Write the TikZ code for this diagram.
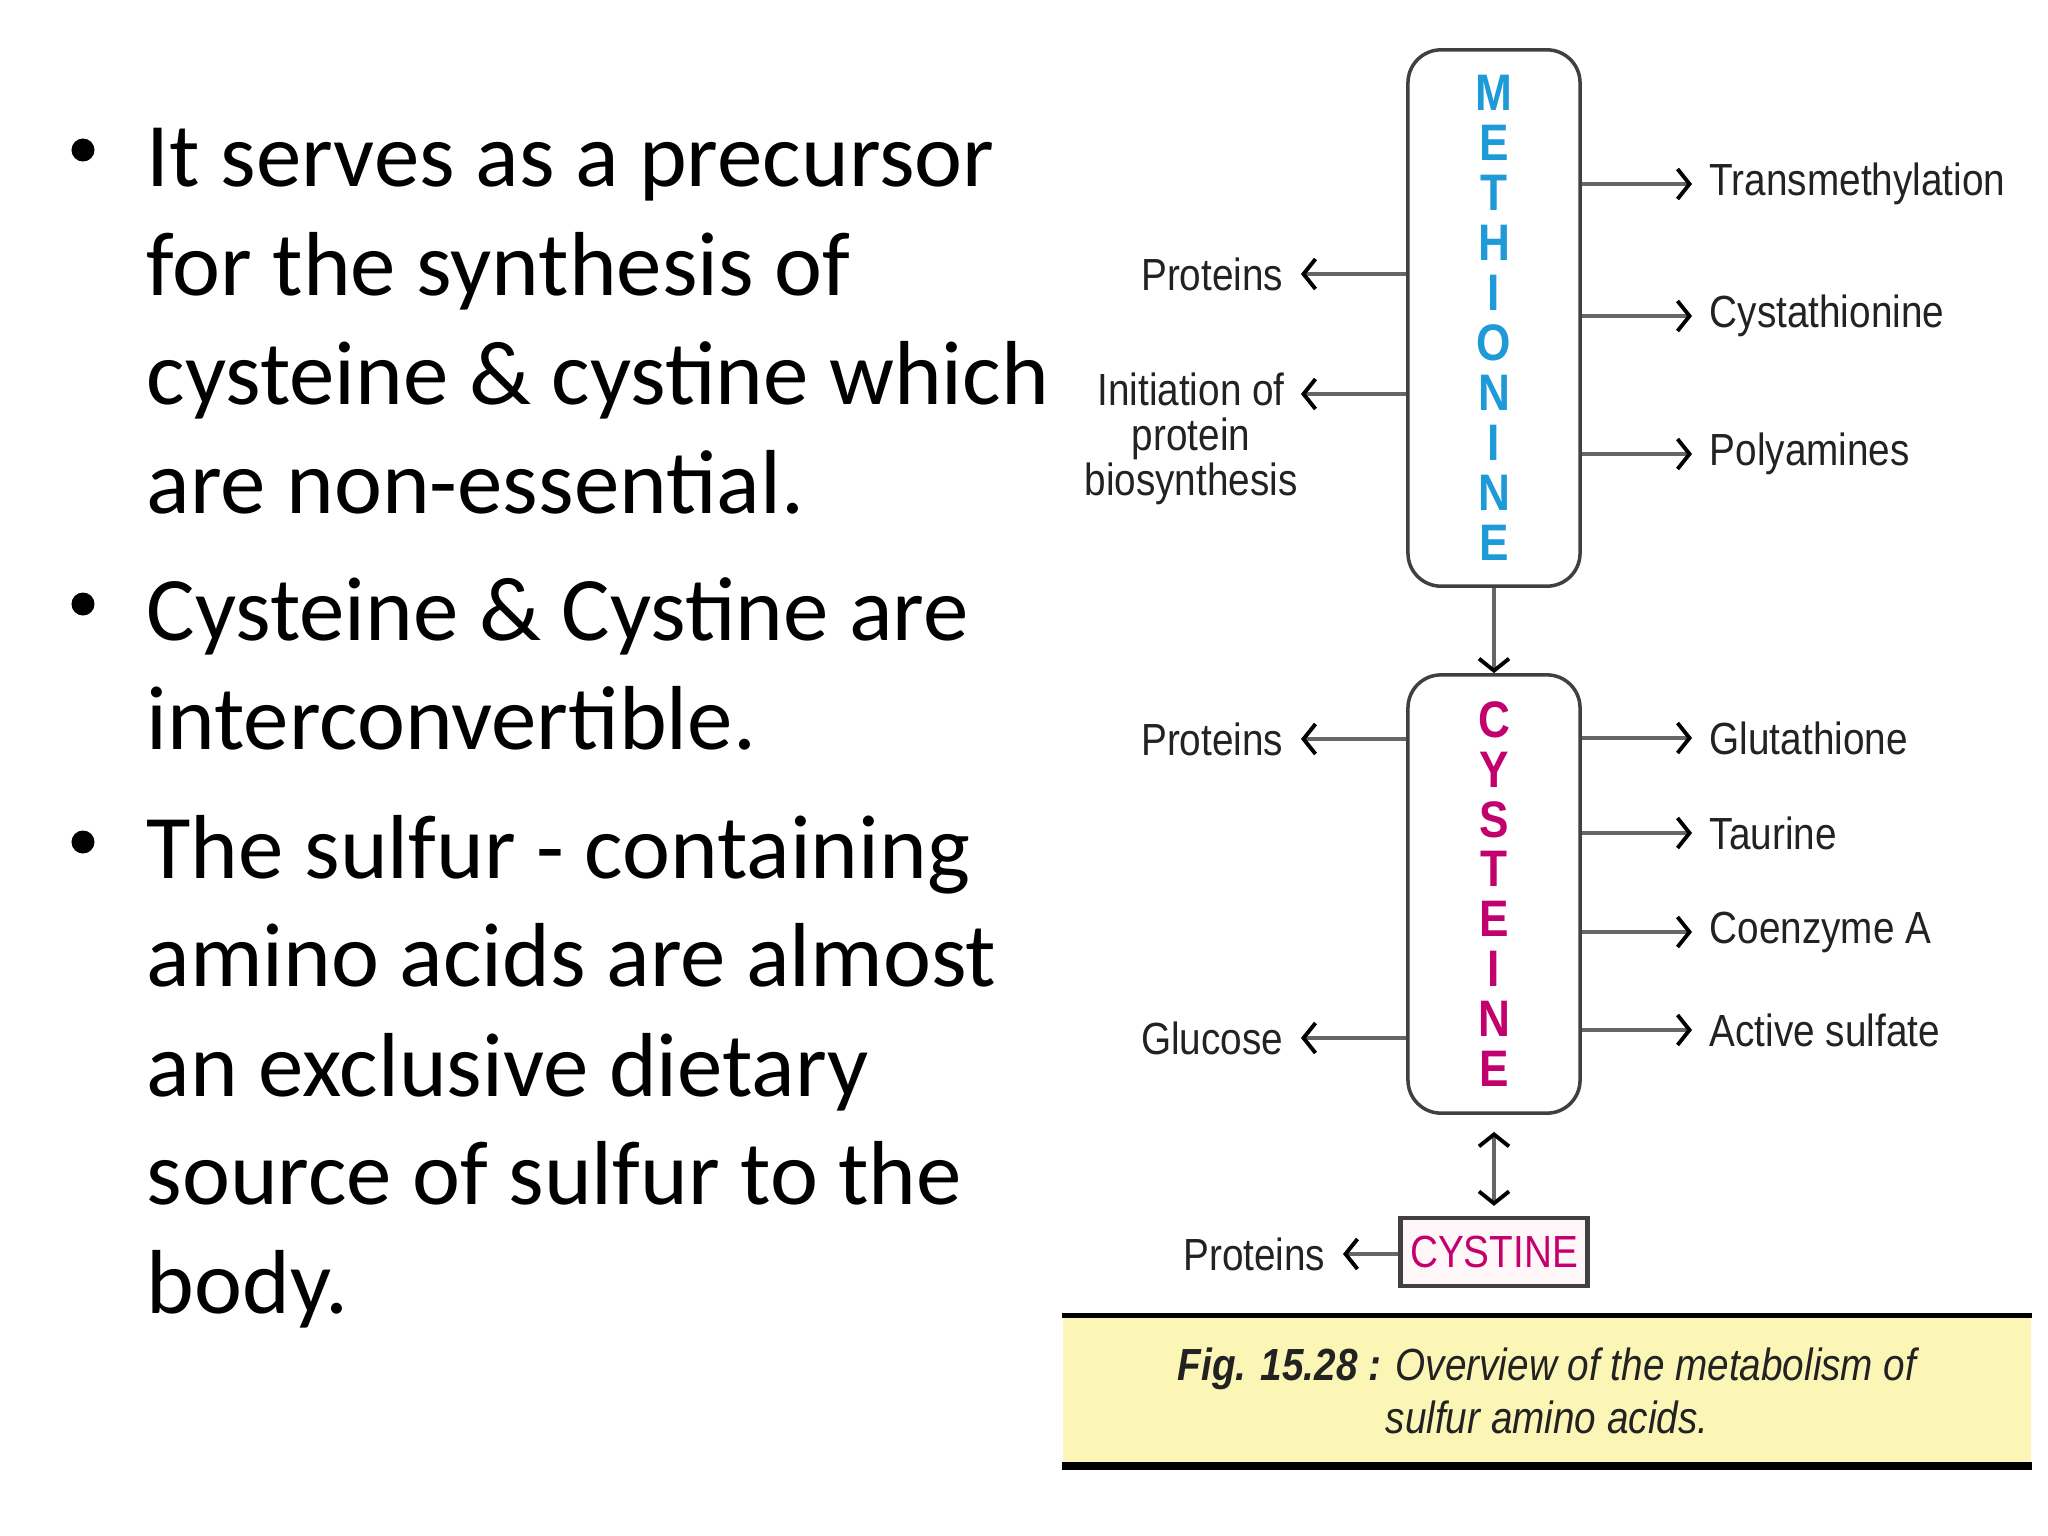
\documentclass[tikz,border=0pt]{standalone}
\usepackage{fontspec}
\setmainfont{Carlito}
\newfontfamily\diag[FakeStretch=0.86]{Liberation Sans}
\usetikzlibrary{arrows.meta}
\definecolor{metblue}{HTML}{1E9AD8}
\definecolor{cysmag}{HTML}{C2006E}
\definecolor{capyel}{HTML}{FBF6B6}
\definecolor{lblgray}{HTML}{222222}
\definecolor{linegray}{HTML}{666666}
\begin{document}
\begin{tikzpicture}[x=0.01cm,y=-0.01cm,
 bul/.style={anchor=base west, inner sep=0pt, font=\fontsize{25.85}{30}\selectfont},
 dot/.style={circle, fill=black, inner sep=0pt, minimum size=0.23cm},
 lbl/.style={font=\diag\fontsize{12.8}{12.7}\selectfont, text=lblgray, inner xsep=0.17cm, inner ysep=0pt},
 tipb/.tip={Straight Barb[length=0.12cm,width=0.3cm,black,line width=1.1pt]},
 arr/.style={draw=linegray, line width=1.4pt, -tipb},
 darr/.style={draw=linegray, line width=1.4pt, tipb-tipb},
 pillbox/.style={draw=black!75, line width=1pt, rounded corners=0.33cm, minimum width=1.72cm, fill=white, align=center, font=\diag\bfseries\fontsize{14.6}{14.2}\selectfont},
]
\useasboundingbox (0,0) rectangle (2048,1536);
\fill[white] (0,0) rectangle (2048,1536);

% bullets
\node[dot] (b1) at (83,150) {};
\node[bul] (l1) at (146,186) {It serves as a precursor};
\node[bul] (l2) at (146,295) {for the synthesis of};
\node[bul] (l3) at (146,404) {cysteine \& cystine which};
\node[bul] (l4) at (146,513) {are non-essential.};
\node[dot] (b2) at (83,604) {};
\node[bul] (l5) at (146,640) {Cysteine \& Cystine are};
\node[bul] (l6) at (146,749) {interconvertible.};
\node[dot] (b3) at (83,842) {};
\node[bul] (l7) at (146,878) {The sulfur - containing};
\node[bul] (l8) at (146,986) {amino acids are almost};
\node[bul] (l9) at (146,1096) {an exclusive dietary};
\node[bul] (l10) at (146,1204) {source of sulfur to the};
\node[bul] (l11) at (146,1313) {body.};

% methionine
\node[pillbox, minimum height=5.36cm, text=metblue] (met) at (1494,318)
  {M\\E\\T\\H\\I\\O\\N\\I\\N\\E};
\node[lbl, anchor=west] (tm) at (1692,184) {Transmethylation};
\node[lbl, anchor=west] (cyn) at (1692,316) {Cystathionine};
\node[lbl, anchor=west] (pa) at (1692,454) {Polyamines};
\node[lbl, anchor=east] (pr1) at (1301,274) {Proteins};
\node[lbl, align=center, inner sep=0pt] (init) at (1191,439) {Initiation of\\protein\\biosynthesis};
\coordinate (initTip) at (1301,394);
\draw[arr] (met.east |- tm.west) -- (tm.west);
\draw[arr] (met.east |- cyn.west) -- (cyn.west);
\draw[arr] (met.east |- pa.west) -- (pa.west);
\draw[arr] (met.west |- pr1.east) -- (pr1.east);
\draw[arr] (met.west |- initTip) -- (initTip);

% cysteine
\node[pillbox, minimum height=4.38cm, text=cysmag] (cys) at (1494,894)
  {C\\Y\\S\\T\\E\\I\\N\\E};
\draw[arr] (met.south) -- (cys.north);
\node[lbl, anchor=west] (glu) at (1692,738) {Glutathione};
\node[lbl, anchor=west] (tau) at (1692,833) {Taurine};
\node[lbl, anchor=west] (coa) at (1692,932) {Coenzyme A};
\node[lbl, anchor=west] (asu) at (1692,1030) {Active sulfate};
\node[lbl, anchor=east] (pr2) at (1301,739) {Proteins};
\node[lbl, anchor=east] (glc) at (1301,1038) {Glucose};
\draw[arr] (cys.east |- glu.west) -- (glu.west);
\draw[arr] (cys.east |- tau.west) -- (tau.west);
\draw[arr] (cys.east |- coa.west) -- (coa.west);
\draw[arr] (cys.east |- asu.west) -- (asu.west);
\draw[arr] (cys.west |- pr2.east) -- (pr2.east);
\draw[arr] (cys.west |- glc.east) -- (glc.east);

% cystine
\node[draw=black!75, line width=1.2pt, fill=pink!12, minimum width=1.87cm, minimum height=0.68cm, inner sep=0pt, text=cysmag, font=\diag\fontsize{12.8}{12.7}\selectfont] (cyst) at (1494,1252) {CYSTINE};
\draw[darr, shorten <=0.17cm, shorten >=0.1cm] (cys.south) -- (cyst.north);
\node[lbl, anchor=east] (pr3) at (1343,1254) {Proteins};
\draw[arr] (cyst.west |- pr3.east) -- (pr3.east);

% caption
\node[fill=capyel, minimum width=9.68cm, minimum height=1.49cm, inner sep=0pt, align=center, text=lblgray, font=\diag\itshape\fontsize{12.8}{15.1}\selectfont] (cap) at (1547,1390.5)
  {\textbf{Fig. 15.28 :} Overview of the metabolism of\\sulfur amino acids.};
\draw[line width=1.4pt] (cap.north west) -- (cap.north east);
\draw[line width=2.3pt] (cap.south west) -- (cap.south east);
\end{tikzpicture}
\end{document}
